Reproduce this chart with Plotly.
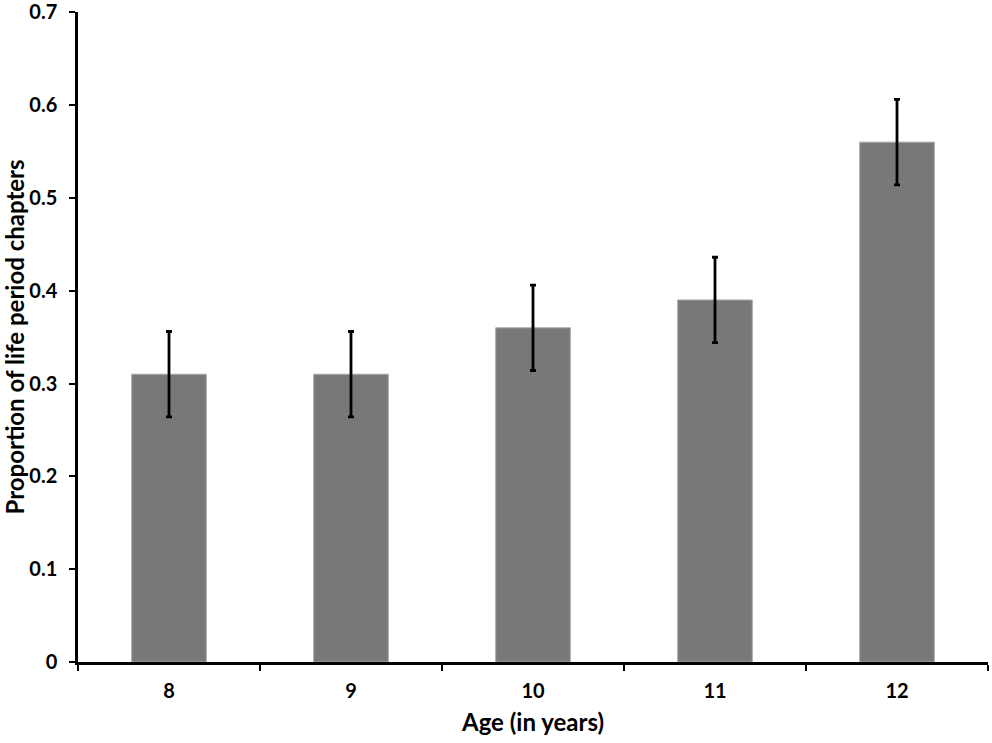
import plotly.graph_objects as go

# Data
ages = ["8", "9", "10", "11", "12"]
proportion = [0.31, 0.31, 0.36, 0.39, 0.56]
error = [0.046, 0.046, 0.046, 0.046, 0.046]
y_ticks = [0, 0.1, 0.2, 0.3, 0.4, 0.5, 0.6, 0.7]
y_labels = ["0", "0.1", "0.2", "0.3", "0.4", "0.5", "0.6", "0.7"]

fig = go.Figure()
fig.add_trace(go.Bar(
    x=ages, y=proportion,
    marker=dict(color="#787878", line=dict(color="#a8a8a8", width=1)),
    error_y=dict(type="data", array=error, visible=True,
                 color="black", thickness=2.8, width=3),
))

font_family = "Lato"

fig.update_layout(
    width=992, height=743,
    margin=dict(l=78, r=4, t=12, b=81),
    plot_bgcolor="white", paper_bgcolor="white",
    bargap=0.59,
    showlegend=False,
    font=dict(family=font_family, color="black"),
)

fig.update_xaxes(
    title=dict(text="<b>Age (in years)</b>", font=dict(size=24), standoff=14),
    tickfont=dict(size=20, family=font_family, weight="bold"),
    showline=True, linecolor="black", linewidth=2.5,
    ticks="outside", tickson="boundaries", ticklen=6, tickwidth=2, tickcolor="black",
    ticklabelstandoff=9,
    showgrid=False, automargin=False,
)
fig.update_yaxes(
    title=dict(text="<b>Proportion of life period chapters</b>", font=dict(size=24), standoff=8),
    tickfont=dict(size=20, family=font_family, weight="bold"),
    range=[0, 0.7002], tickvals=y_ticks, ticktext=y_labels,
    showline=True, linecolor="black", linewidth=2.5,
    ticks="outside", ticklen=6, tickwidth=2, tickcolor="black",
    ticklabelstandoff=8, ticklabeloverflow="allow",
    showgrid=False, zeroline=False, automargin=False,
)

# the page body has a default 8px margin; remove it so the figure sits at 0,0
fig.write_html("out.html", config={"displayModeBar": False},
               post_script="document.body.style.margin='0';")
